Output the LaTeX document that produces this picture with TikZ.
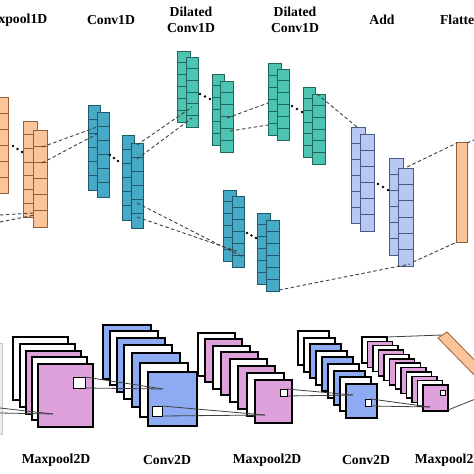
\documentclass[tikz,border=0pt]{standalone}
\usepackage{fontspec}
\setmainfont{Liberation Serif}
\definecolor{orf}{HTML}{FAC59B}
\definecolor{ord}{HTML}{9A5E36}
\definecolor{cof}{HTML}{46A9C6}
\definecolor{cod}{HTML}{1E5A6B}
\definecolor{dlf}{HTML}{4DC3B2}
\definecolor{dld}{HTML}{1F665C}
\definecolor{adf}{HTML}{B7C9F3}
\definecolor{add}{HTML}{4A5A86}
\definecolor{ctf}{HTML}{8CABF2}
\definecolor{mpf}{HTML}{DFA1DB}
\definecolor{lnc}{HTML}{404040}
\tikzset{
  orblk/.style={fill=orf,draw=ord,line width=0.8pt},
  coblk/.style={fill=cof,draw=cod,line width=0.8pt},
  dlblk/.style={fill=dlf,draw=dld,line width=0.8pt},
  adblk/.style={fill=adf,draw=add,line width=0.8pt},
  dashln/.style={draw=lnc,dash pattern=on 3.5pt off 2.5pt,line width=0.9pt},
  projln/.style={draw=lnc,line width=0.8pt},
  frm/.style={draw=black,line width=1.4pt},
  lbl/.style={font=\bfseries\fontsize{13.7}{16}\selectfont,align=center,inner sep=0pt},
}
\newcommand{\colm}[6]{%
  \draw[#6] (#1,#2) rectangle ++(#3,#4);%
  \pgfmathsetmacro{\cellh}{#4/#5}%
  \pgfmathtruncatemacro{\nm}{#5-1}%
  \foreach \k in {1,...,\nm}{\draw[#6] (#1,#2+\k*\cellh) -- ++(#3,0);}%
}
\newcommand{\dotz}[4]{%
  \fill (#1,#2) circle (1.4);
  \fill ({(#1+#3)/2},{(#2+#4)/2}) circle (1.4);
  \fill (#3,#4) circle (1.4);}
\newcommand{\fram}[5]{\draw[frm,fill=#5] (#1,#2) rectangle ++(#3,#4);}
\begin{document}
\begin{tikzpicture}[x=1pt,y=-1pt]
\useasboundingbox (0,0) rectangle (474,474);
\clip (0,0) rectangle (474,474);
\fill[white] (0,0) rectangle (474,474);
% ---------- labels ----------
\node[lbl] (lmp1) at (13,20) {Maxpool1D};
\node[lbl] (lc1) at (111,20) {Conv1D};
\node[lbl] (ld1) at (191,20) {Dilated\\Conv1D};
\node[lbl] (ld2) at (295,20) {Dilated\\Conv1D};
\node[lbl] (lad) at (382,20) {Add};
\node[lbl] (lfl) at (461,20) {Flatten};
\node[lbl] (lmp2a) at (56,460) {Maxpool2D};
\node[lbl] (lc2a) at (167,460) {Conv2D};
\node[lbl] (lmp2b) at (267,460) {Maxpool2D};
\node[lbl] (lc2b) at (366,460) {Conv2D};
\node[lbl] (lmp2c) at (449,460) {Maxpool2D};
% ---------- top: 1D blocks ----------
\colm{-15}{89}{14}{96}{6}{orblk}
\colm{-6}{97}{14}{96}{6}{orblk}
\colm{23}{121}{14}{96}{7}{orblk}
\colm{33}{130}{14}{97}{6}{orblk}
\dotz{13}{146}{22}{152}
\colm{88}{105}{12}{85}{6}{coblk}
\colm{97}{112}{12}{85}{6}{coblk}
\colm{122}{135}{12}{85}{6}{coblk}
\colm{131}{143}{12}{85}{6}{coblk}
\dotz{110}{155}{118}{161}
\colm{177}{51}{13}{71}{6}{dlblk}
\colm{186}{57}{12}{70}{6}{dlblk}
\colm{212}{74}{12}{71}{6}{dlblk}
\colm{220}{81}{13}{71}{6}{dlblk}
\dotz{200}{94}{210}{99}
\colm{268}{63}{13}{72}{6}{dlblk}
\colm{277}{69}{12}{71}{6}{dlblk}
\colm{303}{87}{12}{70}{6}{dlblk}
\colm{312}{94}{13}{70}{6}{dlblk}
\dotz{292}{106}{302}{112}
\colm{223}{190}{13}{71}{6}{coblk}
\colm{232}{196}{12}{71}{6}{coblk}
\colm{257}{213}{13}{71}{6}{coblk}
\colm{266}{220}{13}{71}{6}{coblk}
\dotz{247}{233}{256}{238}
\colm{351}{127}{14}{96}{6}{adblk}
\colm{360}{134}{14}{97}{6}{adblk}
\colm{389}{158}{14}{97}{6}{adblk}
\colm{398}{168}{15}{98}{6}{adblk}
\dotz{378}{184}{388}{190}
\draw[orblk] (456,142) rectangle (467,242);
% ---------- top: dashed connectors ----------
\coordinate (a1) at (0,215);   \coordinate (a2) at (33,213);
\coordinate (a3) at (0,222);   \coordinate (a4) at (35,215);
\coordinate (b1) at (42,147);  \coordinate (b2) at (97,127);
\coordinate (b3) at (42,163);  \coordinate (b4) at (97,134);
\coordinate (c1) at (137,145); \coordinate (c2) at (192,107);
\coordinate (c3) at (137,159); \coordinate (c4) at (192,118);
\coordinate (d1) at (137,203); \coordinate (d2) at (243,257);
\coordinate (d3) at (137,217); \coordinate (d4) at (239,252);
\coordinate (e1) at (227,118); \coordinate (e2) at (268,103);
\coordinate (e3) at (230,131); \coordinate (e4) at (268,125);
\coordinate (f1) at (317,94);  \coordinate (f2) at (357,127);
\coordinate (f3) at (279,290); \coordinate (f4) at (410,264);
\coordinate (g1) at (407,167); \coordinate (g2) at (457,143);
\coordinate (g3) at (413,262); \coordinate (g4) at (457,242);
\coordinate (g5) at (467,143); \coordinate (g6) at (478,138);
\foreach \p/\q in {a1/a2,a3/a4,b1/b2,b3/b4,c1/c2,c3/c4,d1/d2,d3/d4,e1/e2,e3/e4,f1/f2,f3/f4,g1/g2,g3/g4,g5/g6}
  {\draw[dashln] (\p) -- (\q);}
% ---------- bottom: 2D stacks ----------
\draw[fill=gray!15,draw=gray!45] (-6,343) rectangle (2,434);
% stack 1
\fram{13}{337}{55}{63}{white}
\fram{20}{344}{55}{63}{white}
\fram{26}{351}{55}{63}{mpf}
\fram{32}{357}{55}{63}{white}
\fram{38}{364}{55}{63}{mpf}
\draw[frm,fill=white,line width=1pt] (73,377) rectangle (85,388);
% stack 2
\fram{103}{325}{48}{54}{ctf}
\fram{110}{331}{48}{54}{white}
\fram{117}{338}{48}{54}{ctf}
\fram{124}{345}{48}{54}{white}
\fram{132}{353}{48}{54}{ctf}
\fram{140}{363}{48}{54}{white}
\fram{148}{372}{49}{54}{ctf}
\draw[frm,fill=white,line width=1pt] (152,406) rectangle (162,416);
% stack 3
\fram{198}{333}{37}{43}{white}
\fram{205}{339}{37}{43}{mpf}
\fram{213}{346}{37}{43}{white}
\fram{221}{352}{37}{43}{mpf}
\fram{230}{359}{37}{43}{white}
\fram{238}{366}{37}{43}{mpf}
\fram{247}{373}{37}{43}{white}
\fram{255}{380}{37}{43}{mpf}
\draw[frm,fill=white,line width=1pt] (280,389) rectangle (287,396);
% stack 4
\fram{298}{331}{31}{34}{white}
\fram{304}{338}{31}{34}{white}
\fram{310}{344}{31}{34}{ctf}
\fram{316}{351}{31}{34}{white}
\fram{322}{357}{31}{34}{ctf}
\fram{328}{364}{31}{34}{white}
\fram{334}{371}{31}{34}{ctf}
\fram{340}{377}{31}{34}{white}
\fram{346}{384}{31}{34}{ctf}
\draw[frm,fill=white,line width=1pt] (365,399) rectangle (371,406);
% stack 5
\foreach \i in {0,...,11}{%
  \ifodd\i\def\fc{mpf}\else\def\fc{white}\fi
  \fram{362+\i*5.545}{337+\i*4.36}{25}{26}{\fc}}
\draw[frm,fill=white,line width=0.9pt] (440,390) rectangle (445,395);
% flatten bar
\draw[orblk] (438,338) -- (447,332) -- (492,378) -- (483,384) -- cycle;
% ---------- bottom: projection lines ----------
\coordinate (p1) at (0,408);   \coordinate (p2) at (0,413);   \coordinate (p3) at (53,414);
\coordinate (q1) at (85,377);  \coordinate (q2) at (85,388);  \coordinate (q3) at (163,389);
\coordinate (r1) at (162,406); \coordinate (r2) at (162,416); \coordinate (r3) at (265,415);
\coordinate (s1) at (287,389); \coordinate (s2) at (287,396); \coordinate (s3) at (353,395);
\coordinate (t1) at (371,399); \coordinate (t2) at (371,406); \coordinate (t3) at (430,407);
\coordinate (u1) at (387,337); \coordinate (u2) at (442,335);
\coordinate (v1) at (448,410); \coordinate (v2) at (478,398);
\foreach \p/\q in {p1/p3,p2/p3,q1/q3,q2/q3,r1/r3,r2/r3,s1/s3,s2/s3,t1/t3,t2/t3,u1/u2,v1/v2}
  {\draw[projln] (\p) -- (\q);}
\end{tikzpicture}
\end{document}
